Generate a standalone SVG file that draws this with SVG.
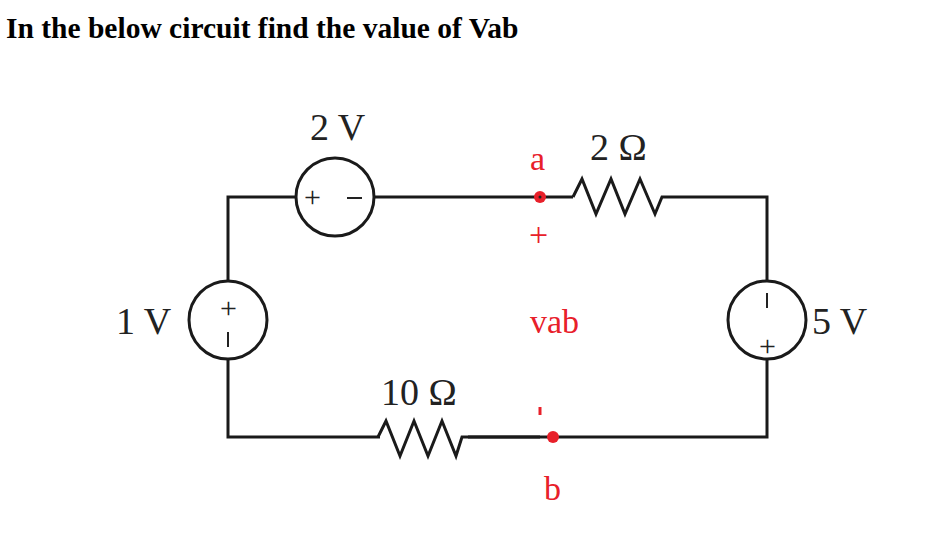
<svg xmlns="http://www.w3.org/2000/svg" width="952" height="538" viewBox="0 0 952 538">
<style>
.w{fill:none;stroke:#1a1a1a;stroke-width:3;stroke-linejoin:miter}
.s{fill:#fff;stroke:#1a1a1a;stroke-width:3}
.t{font-family:"Liberation Serif",serif;font-size:38px;fill:#222}
.r{font-family:"Liberation Serif",serif;font-size:34px;fill:#e8202a}
.p{font-family:"Liberation Serif",serif;font-size:30px;fill:#222}
</style>
<rect width="952" height="538" fill="#fff"/>
<text x="6" y="38" font-family="Liberation Serif,serif" font-size="29.5" font-weight="bold">In the below circuit find the value of Vab</text>
<g id="wires">
<path class="w" d="M573,197 H228 V437 H380"/>
<path class="w" d="M665,197 H767 V437 H468"/>
<path class="w" d="M468,437 H540"/>
</g>
<g id="R2">
<path class="w" d="M573,197 L582,179 L596,214 L611,179 L625,214 L640,179 L655,214 L662,197 H665"/>
<text class="t" x="590" y="160">2 Ω</text>
</g>
<g id="R10">
<path class="w" d="M378,437 L386,421 L400,456 L414,421 L428,456 L442,421 L456,456 L462,437 H468"/>
<text class="t" x="381" y="405">10 Ω</text>
</g>
<g id="V2">
<circle class="s" cx="335" cy="197" r="39"/>
<text class="p" x="304" y="207">+</text>
<path d="M347,198 H362" stroke="#222" stroke-width="2"/>
<text class="t" x="310" y="140">2 V</text>
</g>
<g id="V1">
<circle class="s" cx="228" cy="320" r="39"/>
<text class="p" x="220" y="318">+</text>
<path d="M228,332 V347" stroke="#222" stroke-width="2"/>
<text class="t" x="116" y="334">1 V</text>
</g>
<g id="V5">
<circle class="s" cx="767" cy="320" r="39"/>
<path d="M767,293 V308" stroke="#222" stroke-width="2"/>
<text class="p" x="759" y="356">+</text>
<text class="t" x="812" y="334">5 V</text>
</g>
<g id="a">
<circle cx="540" cy="197" r="6" fill="#e8202a"/>
<circle cx="540" cy="197" r="1.5" fill="#222"/>
<text class="r" x="530" y="170">a</text>
<text class="r" x="529" y="246">+</text>
</g>
<g id="vab"><text class="r" x="530" y="333">vab</text></g>
<g id="b">
<circle cx="553" cy="437" r="6" fill="#e8202a"/>
<path d="M540,407 V415" stroke="#e8202a" stroke-width="3"/>
<text class="r" x="544" y="500">b</text>
</g>
</svg>
